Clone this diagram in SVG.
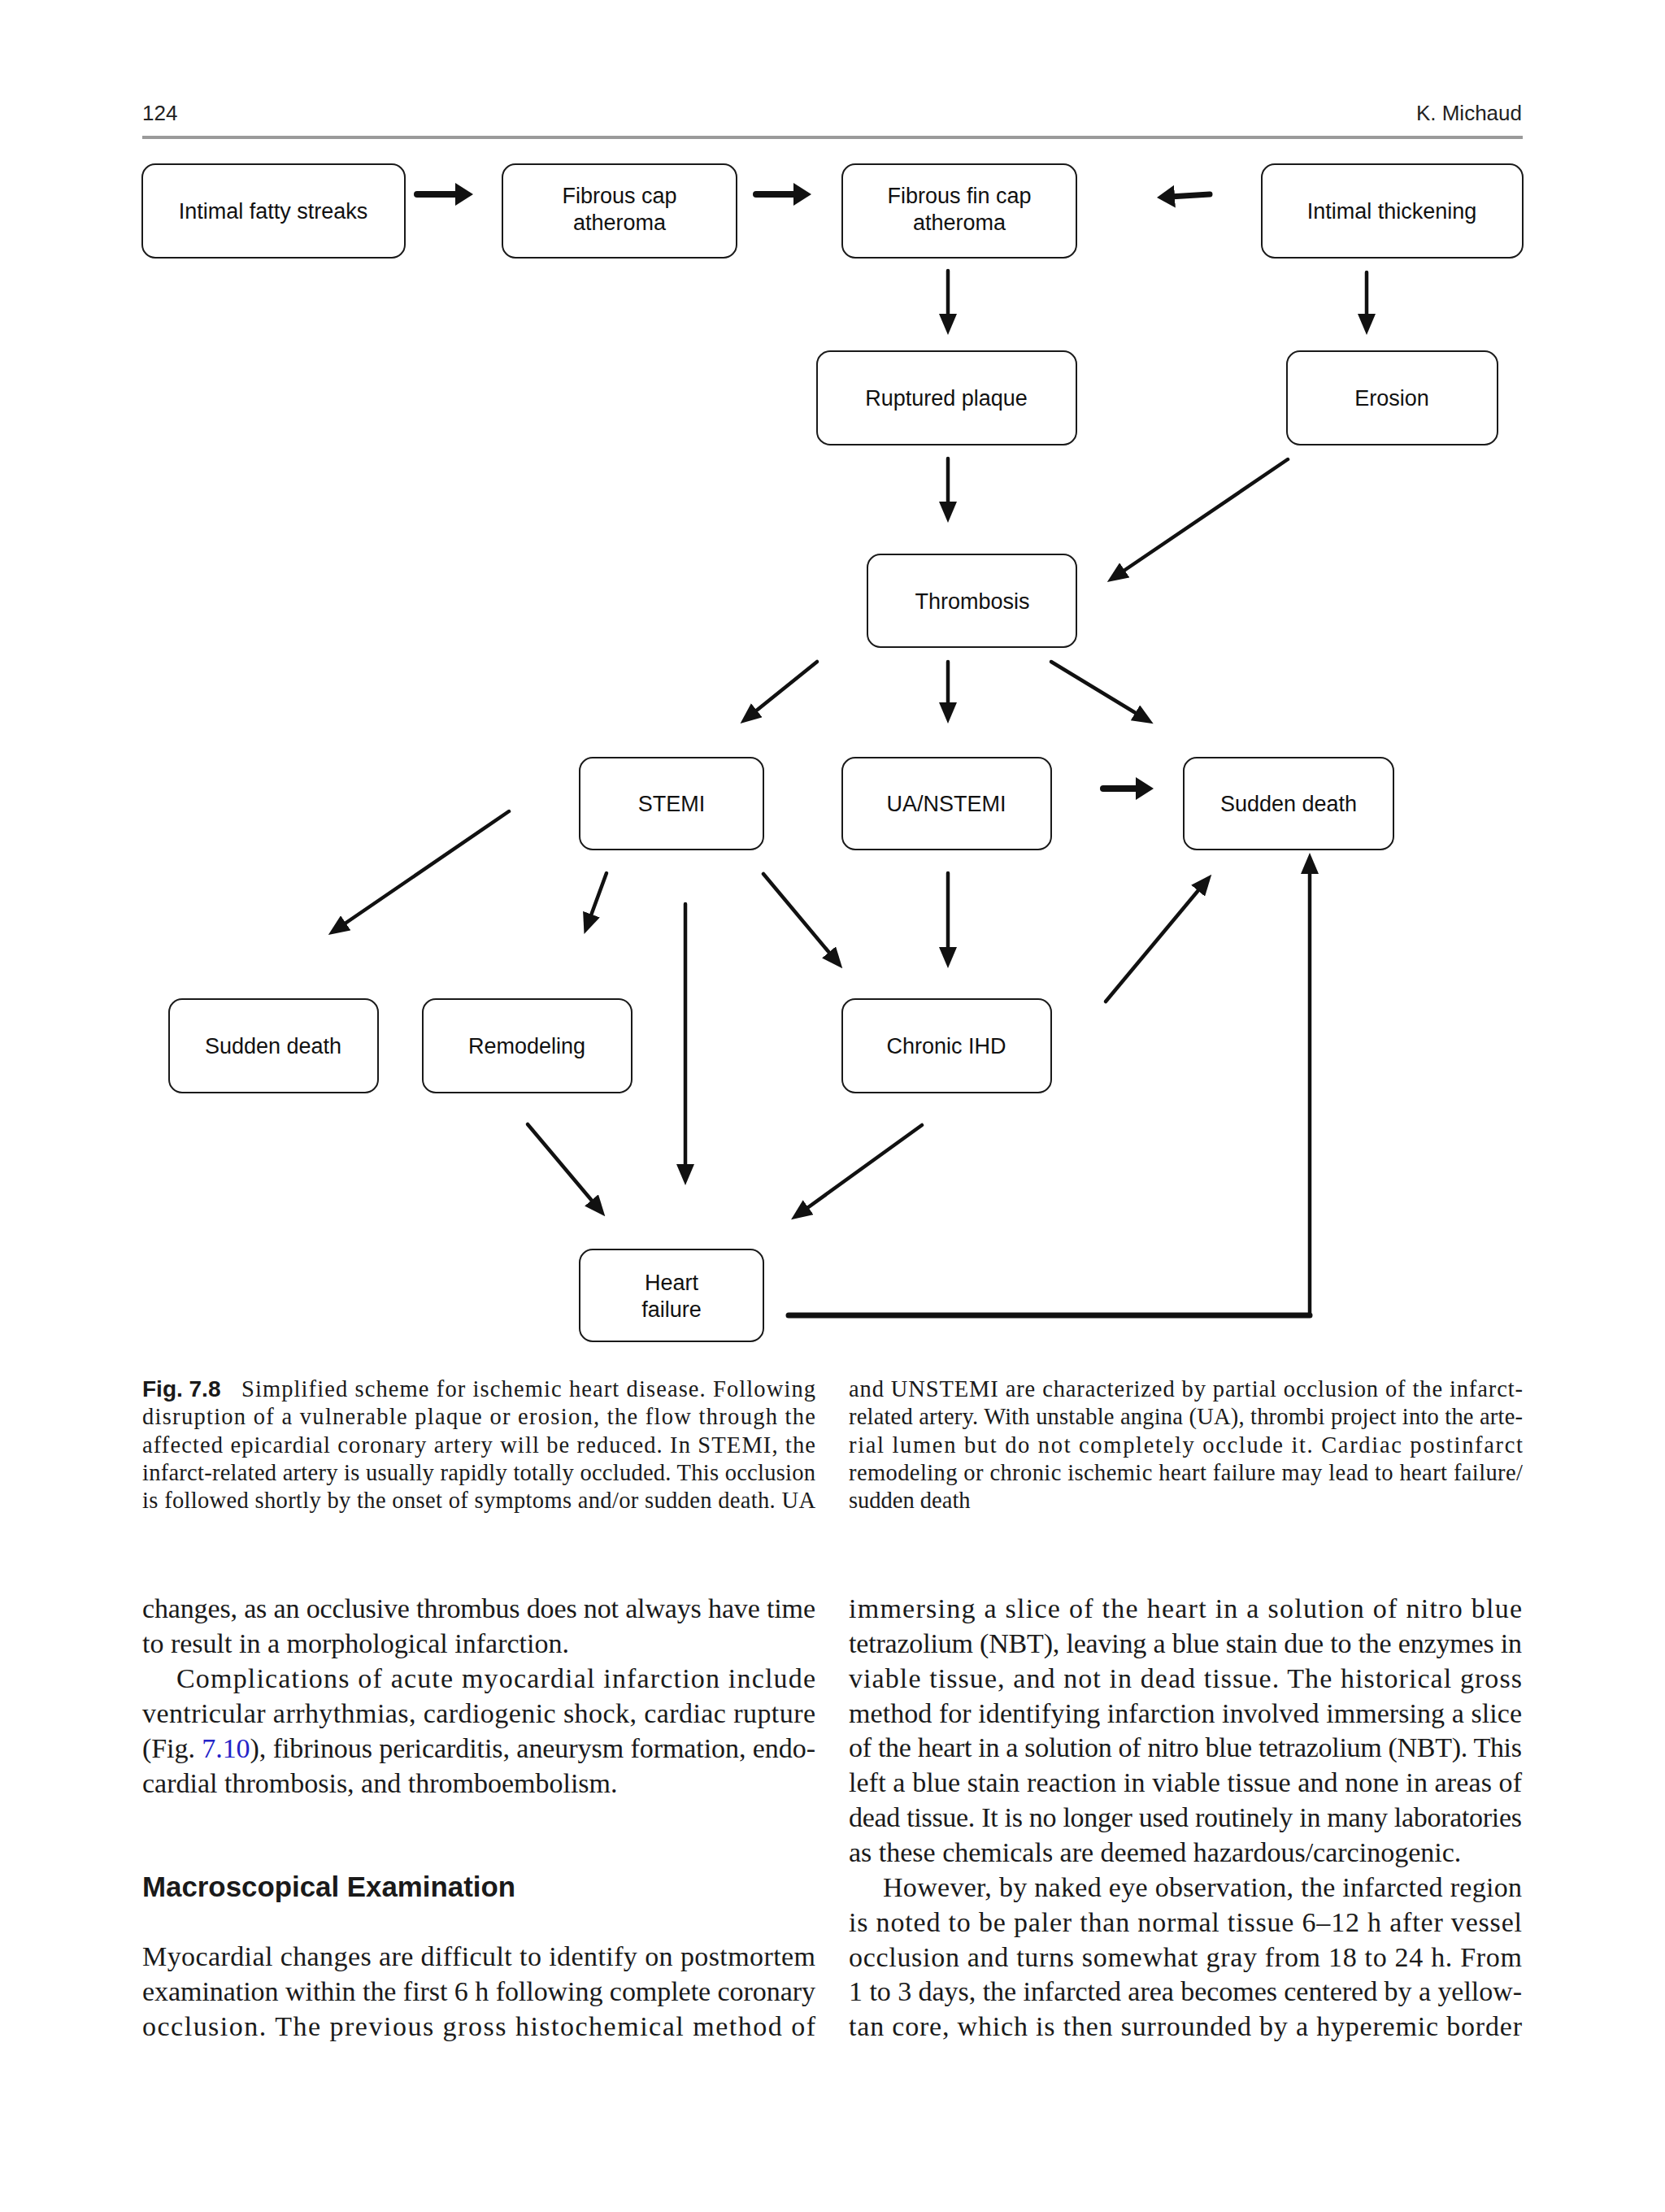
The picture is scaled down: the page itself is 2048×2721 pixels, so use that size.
<svg xmlns="http://www.w3.org/2000/svg" width="2048" height="2721" viewBox="0 0 2048 2721">
<style>
.box{fill:#fff;stroke:#1a1a1a;stroke-width:2}
.lbl{font-family:"Liberation Sans",Arial,sans-serif;font-size:27px;fill:#111;text-anchor:middle}
.c{fill:none;stroke:#111;stroke-width:4.5;stroke-linecap:round}
.ct{fill:none;stroke:#111;stroke-width:8;stroke-linecap:round}
.cap{font-family:"Liberation Serif","Times New Roman",serif;font-size:28.5px;fill:#1a1a1a}
.body{font-family:"Liberation Serif","Times New Roman",serif;font-size:34px;fill:#1a1a1a}
.hdr{font-family:"Liberation Sans",Arial,sans-serif;font-size:26px;fill:#222}
</style>
<defs>
<marker id="ah" markerUnits="userSpaceOnUse" markerWidth="26" markerHeight="22" viewBox="0 0 26 22" refX="10" refY="11" orient="auto"><path d="M0,0 L26,11 L0,22 z" fill="#111"/></marker>
<marker id="ahb" markerUnits="userSpaceOnUse" markerWidth="22" markerHeight="28" viewBox="0 0 22 28" refX="6" refY="14" orient="auto"><path d="M0,0 L22,14 L0,28 z" fill="#111"/></marker>
</defs>
<rect x="0" y="0" width="2048" height="2721" fill="#fff"/>

<g id="header">
<text class="hdr" x="175" y="148">124</text>
<text class="hdr" x="1872" y="148" text-anchor="end" font-size="27">K. Michaud</text>
<line x1="175" y1="169" x2="1873" y2="169" stroke="#9a9a9a" stroke-width="4"/>
</g>

<g id="n-fatty"><rect class="box" x="175" y="202" width="323" height="115" rx="16"/><text class="lbl" x="336" y="269">Intimal fatty streaks</text></g>
<g id="n-fca"><rect class="box" x="618" y="202" width="288" height="115" rx="16"/><text class="lbl" x="762" y="250">Fibrous cap</text><text class="lbl" x="762" y="283">atheroma</text></g>
<g id="n-ffca"><rect class="box" x="1036" y="202" width="288" height="115" rx="16"/><text class="lbl" x="1180" y="250">Fibrous fin cap</text><text class="lbl" x="1180" y="283">atheroma</text></g>
<g id="n-thick"><rect class="box" x="1552" y="202" width="321" height="115" rx="16"/><text class="lbl" x="1712" y="269">Intimal thickening</text></g>
<g id="n-rupt"><rect class="box" x="1005" y="432" width="319" height="115" rx="16"/><text class="lbl" x="1164" y="499">Ruptured plaque</text></g>
<g id="n-eros"><rect class="box" x="1583" y="432" width="259" height="115" rx="16"/><text class="lbl" x="1712" y="499">Erosion</text></g>
<g id="n-thromb"><rect class="box" x="1067" y="682" width="257" height="114" rx="16"/><text class="lbl" x="1196" y="749">Thrombosis</text></g>
<g id="n-stemi"><rect class="box" x="713" y="932" width="226" height="113" rx="16"/><text class="lbl" x="826" y="998">STEMI</text></g>
<g id="n-ua"><rect class="box" x="1036" y="932" width="257" height="113" rx="16"/><text class="lbl" x="1164" y="998">UA/NSTEMI</text></g>
<g id="n-sd2"><rect class="box" x="1456" y="932" width="258" height="113" rx="16"/><text class="lbl" x="1585" y="998">Sudden death</text></g>
<g id="n-sd1"><rect class="box" x="208" y="1229" width="257" height="115" rx="16"/><text class="lbl" x="336" y="1296">Sudden death</text></g>
<g id="n-remod"><rect class="box" x="520" y="1229" width="257" height="115" rx="16"/><text class="lbl" x="648" y="1296">Remodeling</text></g>
<g id="n-chronic"><rect class="box" x="1036" y="1229" width="257" height="115" rx="16"/><text class="lbl" x="1164" y="1296">Chronic IHD</text></g>
<g id="n-hf"><rect class="box" x="713" y="1537" width="226" height="113" rx="16"/><text class="lbl" x="826" y="1587">Heart</text><text class="lbl" x="826" y="1620">failure</text></g>

<g id="connectors">
<line class="ct" x1="513" y1="239" x2="566" y2="239" marker-end="url(#ahb)"/>
<line class="ct" x1="930" y1="239" x2="982" y2="239" marker-end="url(#ahb)"/>
<line class="ct" style="stroke-width:7" x1="1488" y1="239" x2="1439" y2="242" marker-end="url(#ahb)"/>
<line class="c" x1="1166" y1="333" x2="1166" y2="396" marker-end="url(#ah)"/>
<line class="c" x1="1681" y1="335" x2="1681" y2="396" marker-end="url(#ah)"/>
<line class="c" x1="1166" y1="564" x2="1166" y2="627" marker-end="url(#ah)"/>
<line class="c" x1="1584" y1="565" x2="1375" y2="707" marker-end="url(#ah)"/>
<line class="c" x1="1005" y1="814" x2="923" y2="880" marker-end="url(#ah)"/>
<line class="c" x1="1166" y1="814" x2="1166" y2="874" marker-end="url(#ah)"/>
<line class="c" x1="1293" y1="814" x2="1405" y2="882" marker-end="url(#ah)"/>
<line class="ct" x1="1357" y1="970" x2="1403" y2="970" marker-end="url(#ahb)"/>
<line class="c" x1="626" y1="998" x2="417" y2="1141" marker-end="url(#ah)"/>
<line class="c" x1="746" y1="1074" x2="724" y2="1134" marker-end="url(#ah)"/>
<line class="c" x1="843" y1="1112" x2="843" y2="1442" marker-end="url(#ah)"/>
<line class="c" x1="939" y1="1075" x2="1026" y2="1179" marker-end="url(#ah)"/>
<line class="c" x1="1166" y1="1074" x2="1166" y2="1175" marker-end="url(#ah)"/>
<line class="c" x1="1360" y1="1232" x2="1480" y2="1088" marker-end="url(#ah)"/>
<line class="c" x1="649" y1="1383" x2="734" y2="1484" marker-end="url(#ah)"/>
<line class="c" x1="1134" y1="1384" x2="986" y2="1491" marker-end="url(#ah)"/>
<path class="c" style="stroke-linejoin:miter" d="M970,1618 L1611,1618 L1611,1065" marker-end="url(#ah)"/>
<line x1="970" y1="1618" x2="1611" y2="1618" stroke="#111" stroke-width="7" stroke-linecap="round"/>
</g>

<g id="caption">
<text x="175" y="1718" font-family="Liberation Sans,Arial,sans-serif" font-weight="bold" font-size="28" fill="#1a1a1a">Fig. 7.8</text>
<text class="cap" x="297" y="1718" textLength="706" lengthAdjust="spacing">Simplified scheme for ischemic heart disease. Following</text>
<text class="cap" x="175" y="1752" textLength="828" lengthAdjust="spacing">disruption of a vulnerable plaque or erosion, the flow through the</text>
<text class="cap" x="175" y="1787" textLength="828" lengthAdjust="spacing">affected epicardial coronary artery will be reduced. In STEMI, the</text>
<text class="cap" x="175" y="1821" textLength="828" lengthAdjust="spacing">infarct-related artery is usually rapidly totally occluded. This occlusion</text>
<text class="cap" x="175" y="1855" textLength="828" lengthAdjust="spacing">is followed shortly by the onset of symptoms and/or sudden death. UA</text>
<text class="cap" x="1044" y="1718" textLength="829" lengthAdjust="spacing">and UNSTEMI are characterized by partial occlusion of the infarct-</text>
<text class="cap" x="1044" y="1752" textLength="829" lengthAdjust="spacing">related artery. With unstable angina (UA), thrombi project into the arte-</text>
<text class="cap" x="1044" y="1787" textLength="829" lengthAdjust="spacing">rial lumen but do not completely occlude it. Cardiac postinfarct</text>
<text class="cap" x="1044" y="1821" textLength="829" lengthAdjust="spacing">remodeling or chronic ischemic heart failure may lead to heart failure/</text>
<text class="cap" x="1044" y="1855">sudden death</text>
</g>

<g id="body-left">
<text class="body" x="175" y="1990" textLength="828" lengthAdjust="spacing">changes, as an occlusive thrombus does not always have time</text>
<text class="body" x="175" y="2033">to result in a morphological infarction.</text>
<text class="body" x="217" y="2076" textLength="786" lengthAdjust="spacing">Complications of acute myocardial infarction include</text>
<text class="body" x="175" y="2119" textLength="828" lengthAdjust="spacing">ventricular arrhythmias, cardiogenic shock, cardiac rupture</text>
<text class="body" x="175" y="2162" textLength="828" lengthAdjust="spacing">(Fig. <tspan fill="#2323c8">7.10</tspan>), fibrinous pericarditis, aneurysm formation, endo-</text>
<text class="body" x="175" y="2205">cardial thrombosis, and thromboembolism.</text>
<text x="175" y="2333" font-family="Liberation Sans,Arial,sans-serif" font-weight="bold" font-size="35" fill="#1a1a1a" textLength="459" lengthAdjust="spacingAndGlyphs">Macroscopical Examination</text>
<text class="body" x="175" y="2418" textLength="828" lengthAdjust="spacing">Myocardial changes are difficult to identify on postmortem</text>
<text class="body" x="175" y="2461" textLength="828" lengthAdjust="spacing">examination within the first 6 h following complete coronary</text>
<text class="body" x="175" y="2504" textLength="828" lengthAdjust="spacing">occlusion. The previous gross histochemical method of</text>
</g>

<g id="body-right">
<text class="body" x="1044" y="1990" textLength="828" lengthAdjust="spacing">immersing a slice of the heart in a solution of nitro blue</text>
<text class="body" x="1044" y="2033" textLength="828" lengthAdjust="spacing">tetrazolium (NBT), leaving a blue stain due to the enzymes in</text>
<text class="body" x="1044" y="2076" textLength="828" lengthAdjust="spacing">viable tissue, and not in dead tissue. The historical gross</text>
<text class="body" x="1044" y="2119" textLength="828" lengthAdjust="spacing">method for identifying infarction involved immersing a slice</text>
<text class="body" x="1044" y="2161" textLength="828" lengthAdjust="spacing">of the heart in a solution of nitro blue tetrazolium (NBT). This</text>
<text class="body" x="1044" y="2204" textLength="828" lengthAdjust="spacing">left a blue stain reaction in viable tissue and none in areas of</text>
<text class="body" x="1044" y="2247" textLength="828" lengthAdjust="spacing">dead tissue. It is no longer used routinely in many laboratories</text>
<text class="body" x="1044" y="2290">as these chemicals are deemed hazardous/carcinogenic.</text>
<text class="body" x="1086" y="2333" textLength="786" lengthAdjust="spacing">However, by naked eye observation, the infarcted region</text>
<text class="body" x="1044" y="2376" textLength="828" lengthAdjust="spacing">is noted to be paler than normal tissue 6–12 h after vessel</text>
<text class="body" x="1044" y="2419" textLength="828" lengthAdjust="spacing">occlusion and turns somewhat gray from 18 to 24 h. From</text>
<text class="body" x="1044" y="2461" textLength="828" lengthAdjust="spacing">1 to 3 days, the infarcted area becomes centered by a yellow-</text>
<text class="body" x="1044" y="2504" textLength="828" lengthAdjust="spacing">tan core, which is then surrounded by a hyperemic border</text>
</g>
</svg>
